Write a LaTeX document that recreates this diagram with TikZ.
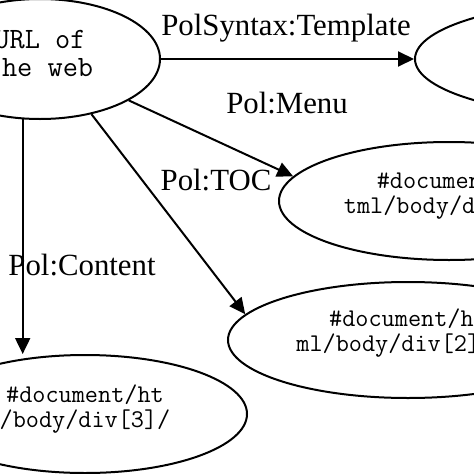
\documentclass[tikz,border=0pt]{standalone}
\usepackage{fontspec}
\setmainfont{Liberation Serif}
\usetikzlibrary{shapes.geometric,arrows.meta}
\tikzstyle{pageNode} = [draw, ellipse, line width=2pt, inner sep=0pt, font=\ttfamily\fontsize{25.5}{23}\selectfont]
\tikzstyle{linkEdge} = [line width=2pt, -{Triangle[length=16pt,width=15pt]}]
\tikzstyle{linkLabel} = [anchor=base, inner sep=0pt, font=\fontsize{30.8}{34}\selectfont]
\newcommand{\nodeLines}[3]{\raisebox{#1}[0pt][0pt]{\begin{tabular}{@{}c@{}}#2\\#3\end{tabular}}}

\begin{document}
\begin{tikzpicture}[x=1pt, y=-1pt]
  \useasboundingbox (0,0) rectangle (474,474);
  \clip (0,0) rectangle (474,474);

  \node [pageNode, minimum width=240pt, minimum height=120pt, font=\ttfamily\fontsize{29.5}{28}\selectfont] (url) at (40,59) {\nodeLines{-4pt}{URL of}{the web}};
  \node [pageNode, minimum width=400pt, minimum height=116pt] (template) at (615,59) {};
  \node [pageNode, minimum width=340pt, minimum height=118pt] (menu) at (449,201) {\nodeLines{-1pt}{\#document/h}{tml/body/div[1]/}};
  \node [pageNode, minimum width=360pt, minimum height=116pt] (toc) at (408,340) {\nodeLines{0pt}{\#document/ht}{ml/body/div[2]/\hphantom{xx}}};
  \node [pageNode, minimum width=324pt, minimum height=118pt] (content) at (85,414) {\nodeLines{-2pt}{\#document/ht}{ml/body/div[3]/\hphantom{xx}}};

  \node [linkLabel] (templateLabel) at (286,35) {PolSyntax:Template};
  \node [linkLabel] (menuLabel) at (287,113) {Pol:Menu};
  \node [linkLabel] (tocLabel) at (216,190) {Pol:TOC};
  \node [linkLabel] (contentLabel) at (82,275) {Pol:Content};

  \draw [linkEdge] (url.east) -- (template.west);
  \draw [linkEdge] (url.-25.5) -- (menu.171);
  \draw [linkEdge] (url.-47.7) -- (toc.171);
  \draw [linkEdge] (url.-106) -- (url.-106 |- content.north);
\end{tikzpicture}
\end{document}
